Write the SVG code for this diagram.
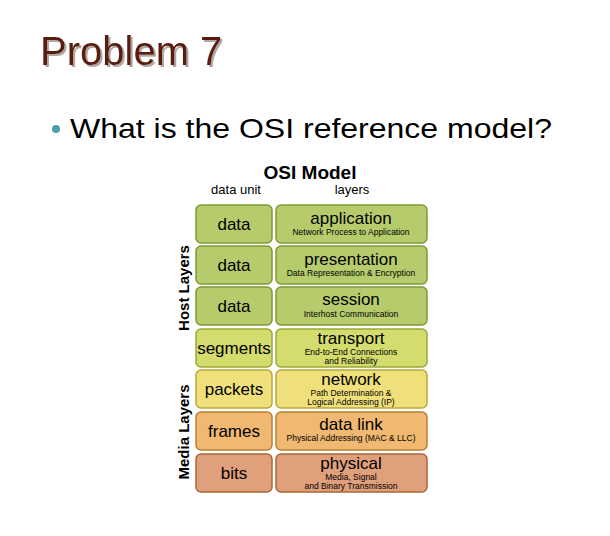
<svg xmlns="http://www.w3.org/2000/svg" width="610" height="536" viewBox="0 0 610 536">
<defs><style>
text{font-family:"Liberation Sans",Arial,sans-serif}
.b{stroke-width:1.5}
.u{font-size:17px;text-anchor:middle}
.n{font-size:17px;text-anchor:middle}
.s{font-size:8.5px;text-anchor:middle}
</style>
<filter id="sh" x="-10%" y="-10%" width="130%" height="140%"><feDropShadow dx="2" dy="2" stdDeviation="0.5" flood-color="#b0a8a0"/></filter></defs>
<rect width="610" height="536" fill="#fff"/>
<text x="40" y="65" font-size="40" fill="#5a1a0a" filter="url(#sh)">Problem 7</text>
<circle cx="56" cy="129" r="4" fill="#4aa0a8"/>
<text x="70" y="138" font-size="27.5" fill="#000" textLength="482" lengthAdjust="spacingAndGlyphs">What is the OSI reference model?</text>
<text x="310" y="179" font-size="19" font-weight="bold" text-anchor="middle">OSI Model</text>
<text x="236" y="194" font-size="13" text-anchor="middle">data unit</text>
<text x="352" y="194" font-size="13" text-anchor="middle">layers</text>
<text transform="translate(189,288) rotate(-90)" font-size="15" font-weight="bold" text-anchor="middle">Host Layers</text>
<text transform="translate(189,432) rotate(-90)" font-size="15" font-weight="bold" text-anchor="middle">Media Layers</text>
<g id="application"><rect x="196" y="205" width="76" height="38" rx="5" fill="#b6cc6c" stroke="#7f9a34" class="b"/><rect x="276" y="205" width="151" height="38" rx="5" fill="#b6cc6c" stroke="#7f9a34" class="b"/>
<text x="234" y="230" class="u">data</text><text x="351" y="224" class="n">application</text><text x="351" y="235" class="s">Network Process to Application</text></g>
<g id="presentation"><rect x="196" y="246" width="76" height="38" rx="5" fill="#b6cc6c" stroke="#7f9a34" class="b"/><rect x="276" y="246" width="151" height="38" rx="5" fill="#b6cc6c" stroke="#7f9a34" class="b"/>
<text x="234" y="271" class="u">data</text><text x="351" y="265" class="n">presentation</text><text x="351" y="276" class="s">Data Representation &amp; Encryption</text></g>
<g id="session"><rect x="196" y="287" width="76" height="38" rx="5" fill="#b6cc6c" stroke="#7f9a34" class="b"/><rect x="276" y="287" width="151" height="38" rx="5" fill="#b6cc6c" stroke="#7f9a34" class="b"/>
<text x="234" y="312" class="u">data</text><text x="351" y="305" class="n" font-size="15">session</text><text x="351" y="317" class="s">Interhost Communication</text></g>
<g id="transport"><rect x="196" y="329" width="76" height="38" rx="5" fill="#d3dc6c" stroke="#9aa83a" class="b"/><rect x="276" y="329" width="151" height="38" rx="5" fill="#d3dc6c" stroke="#9aa83a" class="b"/>
<text x="234" y="354" class="u">segments</text><text x="351" y="344" class="n">transport</text><text x="351" y="355" class="s">End-to-End Connections</text><text x="351" y="364" class="s">and Reliability</text></g>
<g id="network"><rect x="196" y="370" width="76" height="38" rx="5" fill="#f0e07c" stroke="#b8a83a" class="b"/><rect x="276" y="370" width="151" height="38" rx="5" fill="#f0e07c" stroke="#b8a83a" class="b"/>
<text x="234" y="395" class="u">packets</text><text x="351" y="385" class="n">network</text><text x="351" y="396" class="s">Path Determination &amp;</text><text x="351" y="405" class="s">Logical Addressing (IP)</text></g>
<g id="datalink"><rect x="196" y="412" width="76" height="38" rx="5" fill="#f0b870" stroke="#b88030" class="b"/><rect x="276" y="412" width="151" height="38" rx="5" fill="#f0b870" stroke="#b88030" class="b"/>
<text x="234" y="437" class="u">frames</text><text x="351" y="430" class="n">data link</text><text x="351" y="441" class="s">Physical Addressing (MAC &amp; LLC)</text></g>
<g id="physical"><rect x="196" y="454" width="76" height="38" rx="5" fill="#e0a07c" stroke="#a86838" class="b"/><rect x="276" y="454" width="151" height="38" rx="5" fill="#e0a07c" stroke="#a86838" class="b"/>
<text x="234" y="479" class="u">bits</text><text x="351" y="469" class="n">physical</text><text x="351" y="480" class="s">Media, Signal</text><text x="351" y="489" class="s">and Binary Transmission</text></g>
<g id="connectors"/>
</svg>
